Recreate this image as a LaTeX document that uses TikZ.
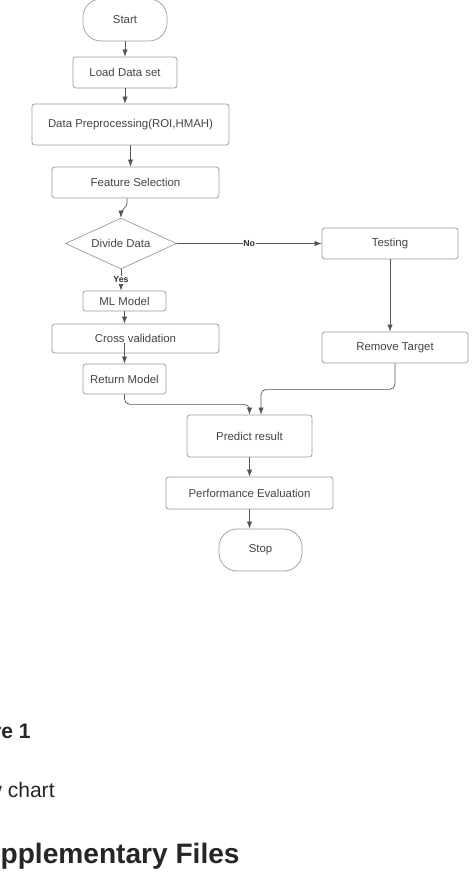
\documentclass[tikz,border=0pt]{standalone}
\usepackage{fontspec}
\setmainfont{Liberation Sans}
\usetikzlibrary{arrows.meta,shapes,positioning}
\definecolor{boxline}{HTML}{9A9A9A}
\definecolor{txt}{HTML}{444444}
\definecolor{arrline}{HTML}{555555}

\begin{document}
\begin{tikzpicture}[x=0.02cm, y=-0.02cm,
    every node/.style={font=\fontsize{6.5}{8}\selectfont, text=txt},
    box/.style={draw=boxline, rounded corners=1.5pt, minimum height=0.62cm},
    term/.style={draw=boxline, rounded corners=0.36cm, minimum width=1.66cm, minimum height=0.84cm},
    decide/.style={draw=boxline, diamond, aspect=2.2, inner sep=0pt, minimum width=2.22cm, minimum height=1.02cm},
    arr/.style={draw=arrline, -{Latex[length=4pt,width=3pt]}},
    lbl/.style={font=\fontsize{5}{6}\selectfont\bfseries, text=black!80, fill=white, inner sep=0.5pt},
    page/.style={inner sep=0pt, text=black!85, anchor=base east}]
          \useasboundingbox (0,0) rectangle (474,872);
          \clip (0,0) rectangle (474,872);
          % left column
          \node[term, minimum width=1.68cm] at (125,20) (start) {Start};
          \node[box, minimum width=2.08cm] at (125,72.5) (load) {Load Data set};
          \node[box, minimum width=3.94cm, minimum height=0.82cm] at (130.5,124.5) (prep) {Data Preprocessing(ROI,HMAH)};
          \node[box, minimum width=3.34cm] at (135.5,182.5) (feat) {Feature Selection};
          \node[decide] at (121,243.5) (div) {Divide Data};
          \node[box, minimum width=1.66cm, minimum height=0.40cm] at (124.5,301) (ml) {ML Model};
          \node[box, minimum width=3.34cm, minimum height=0.58cm] at (135.5,338.5) (cv) {Cross validation};
          \node[box, minimum width=1.66cm, minimum height=0.60cm] at (124.5,379) (rm) {Return Model};
          \coordinate (cvin) at (124.5,343);
          % right column
          \node[box, minimum width=2.72cm] at (390,243.5) (test) {Testing};
          \node[box, minimum width=2.92cm] at (395,347.5) (rt) {Remove Target};
          % bottom
          \node[box, minimum width=2.50cm, minimum height=0.84cm] at (249.5,436) (pred) {Predict result};
          \node[box, minimum width=3.34cm, minimum height=0.64cm] at (249.5,493) (perf) {Performance Evaluation};
          \node[term] at (260.5,550) (stop) {Stop};

          \draw[arr] (start) -- (load);
          \draw[arr] (load.south) -- (load.south |- prep.north);
          \draw[arr] (prep.south) -- (prep.south |- feat.north);
          \draw[arr, rounded corners=2pt] ([xshift=-0.17cm]feat.south) -- ++(0,8) -- ([yshift=0.14cm]div.north) -- (div.north);
          \draw[arr] (div.east) -- node[lbl] {No} (test.west);
          \draw[arr] (div.south) -- node[lbl] {Yes} (div.south |- ml.north);
          \draw[arr] (ml.south) -- (ml.south |- cv.north);
          \draw[arr] (cvin) -- (rm.north);
          \draw[arr] (test.south) -- (test.south |- rt.north);
          \draw[arr, rounded corners=3pt] (rm.south) -- ++(0,10) -| (pred.north);
          \draw[arr, rounded corners=3pt] (rt.south) -- ++(0,26) -| ([xshift=0.23cm]pred.north);
          \draw[arr] (pred) -- (perf);
          \draw[arr] (perf.south) -- (perf.south |- stop.north);

          \node[page, font=\fontsize{12}{14}\selectfont\bfseries] at (31,738) (fig) {Figure 1};
          \node[page, font=\fontsize{12}{14}\selectfont] at (55,797) (cap) {Flow chart};
          \node[page, font=\fontsize{16}{19}\selectfont\bfseries] at (240,863) (supp) {Supplementary Files};
\end{tikzpicture}
\end{document}
